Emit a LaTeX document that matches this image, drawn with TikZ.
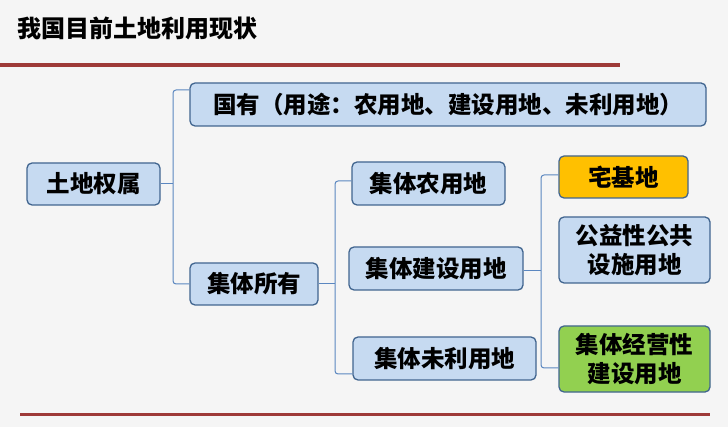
\documentclass[tikz,border=0pt]{standalone}
\usepackage{fontspec}
\setmainfont{Noto Sans CJK SC}
\begin{document}
\begin{tikzpicture}[x=1pt,y=-1pt,
  bx/.style={draw=boxline,line width=1.3pt,rounded corners=5pt,fill=boxblue,font=\fontsize{23.5}{29}\selectfont\bfseries,align=center,inner sep=0pt},
  br/.style={draw=brline,line width=1pt,rounded corners=3pt}]
\definecolor{boxline}{HTML}{41658F}
\definecolor{boxblue}{HTML}{C6DAF1}
\definecolor{brline}{HTML}{5B87C0}
\definecolor{redline}{HTML}{9E3A38}
\fill[fill={rgb,255:red,245;green,245;blue,245}] (0,0) rectangle (728,427);
\useasboundingbox (0,0) rectangle (728,427);
\node[anchor=west,font=\fontsize{24}{28}\selectfont\bfseries] (title) at (14,28) {我国目前土地利用现状};
\fill[redline] (0,63) rectangle (620,67.5);
\fill[redline] (20,413) rectangle (710,415.5);
\node[bx,minimum width=133pt,minimum height=42pt] (a) at (93.5,184) {土地权属};
\node[bx,minimum width=516pt,minimum height=43pt] (b) at (448,104.5) {国有（用途：农用地、建设用地、未利用地）};
\node[bx,minimum width=128pt,minimum height=42pt] (c) at (254,284) {集体所有};
\node[bx,minimum width=153pt,minimum height=43pt] (d) at (428.5,183.5) {集体农用地};
\node[bx,minimum width=174pt,minimum height=43pt] (e) at (436,268.5) {集体建设用地};
\node[bx,minimum width=183pt,minimum height=43pt] (f) at (444.5,358.5) {集体未利用地};
\node[bx,fill={rgb,255:red,255;green,192;blue,0},minimum width=129pt,minimum height=42pt] (g) at (623.5,177) {宅基地};
\node[bx,minimum width=151pt,minimum height=66pt] (h) at (634.5,250) {公益性公共\\设施用地};
\node[bx,fill={rgb,255:red,146;green,208;blue,80},minimum width=151pt,minimum height=66pt] (i) at (634.5,359) {集体经营性\\建设用地};
\draw[br] (a.east) -- (173,184);
\draw[br] (b.west |- 0,90) -- (173,90) -- (173,284) -- (c.west);
\draw[br] (c.east) -- (335,284);
\draw[br] (d.west |- 0,181) -- (335,181) -- (335,374) -- (f.west |- 0,374);
\draw[br] (e.east |- 0,271) -- (541,271);
\draw[br] (g.west |- 0,175) -- (541,175) -- (541,368) -- (i.west |- 0,368);
\end{tikzpicture}
\end{document}
